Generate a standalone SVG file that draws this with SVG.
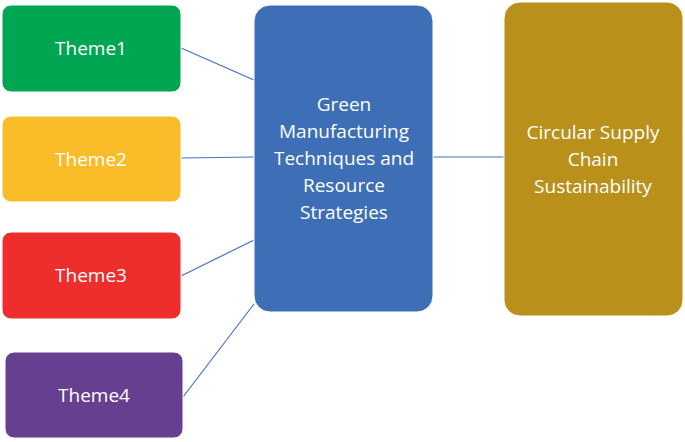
<svg xmlns="http://www.w3.org/2000/svg" width="685" height="442" viewBox="0 0 685 442">
<style>
.n{stroke:#ffffff;stroke-width:1}
.t{font-family:"Open Sans","Liberation Sans",sans-serif;font-size:19px;fill:#ffffff;text-anchor:middle}
.c line{stroke:#4472C4;stroke-width:1.2}
</style>
<rect width="685" height="442" fill="#ffffff"/>
<g class="c">
<line x1="181" y1="48" x2="254" y2="80"/>
<line x1="181" y1="158" x2="254" y2="157"/>
<line x1="181" y1="276" x2="254" y2="240"/>
<line x1="183" y1="397" x2="254" y2="304"/>
<line x1="433" y1="157" x2="504" y2="157"/>
</g>
<g id="theme1"><rect class="n" x="2" y="5" width="179" height="87" rx="9" fill="#00A651"/><text class="t" x="91" y="55">Theme1</text></g>
<g id="theme2"><rect class="n" x="2" y="116" width="179" height="86" rx="9" fill="#FBBC2A"/><text class="t" x="91" y="166">Theme2</text></g>
<g id="theme3"><rect class="n" x="2" y="232" width="179" height="87" rx="9" fill="#EE2D2D"/><text class="t" x="91" y="282">Theme3</text></g>
<g id="theme4"><rect class="n" x="5" y="352" width="178" height="86" rx="9" fill="#673F91"/><text class="t" x="94" y="402">Theme4</text></g>
<g id="center"><rect class="n" x="254" y="5" width="179" height="307" rx="16" fill="#3E6FB6"/>
<text class="t"><tspan x="344" y="111">Green</tspan><tspan x="344" y="138">Manufacturing</tspan><tspan x="344" y="165">Techniques and</tspan><tspan x="344" y="192">Resource</tspan><tspan x="344" y="219">Strategies</tspan></text></g>
<g id="right"><rect class="n" x="504" y="2" width="179" height="314" rx="16" fill="#B8901A"/>
<text class="t"><tspan x="593" y="139">Circular Supply</tspan><tspan x="593" y="166">Chain</tspan><tspan x="593" y="193">Sustainability</tspan></text></g>
</svg>
